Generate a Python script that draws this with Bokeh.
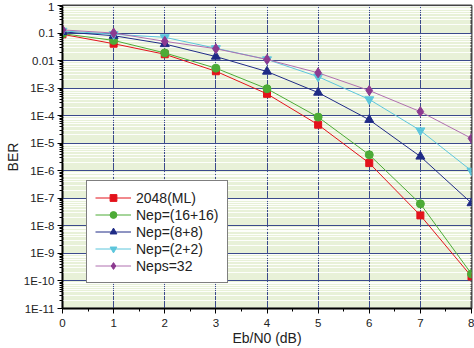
from bokeh.plotting import figure
from bokeh.models import FixedTicker, Legend, LegendItem
from bokeh.embed import file_html
from bokeh.resources import INLINE

snr = [0, 1, 2, 3, 4, 5, 6, 7, 8]
ber_ml = [0.09, 0.041, 0.017, 0.0041, 6.2e-4, 4.7e-5, 1.9e-6, 2.4e-8, 1.45e-10]
ber_16 = [0.095, 0.054, 0.019, 0.0053, 9.5e-4, 8.9e-5, 3.8e-6, 6.3e-8, 1.8e-10]
ber_8 = [0.11, 0.08, 0.04, 0.014, 0.004, 6.9e-4, 7.1e-5, 3.3e-6, 6.7e-8]
ber_2 = [0.12, 0.09, 0.07, 0.028, 0.011, 0.0026, 3.9e-4, 2.9e-5, 1.0e-6]
ber_32 = [0.13, 0.1, 0.05, 0.027, 0.011, 0.0036, 8.2e-4, 1.4e-4, 1.5e-5]

series_names = ["2048(ML)", "Nep=(16+16)", "Nep=(8+8)", "Nep=(2+2)", "Neps=32"]

y_ticks = [1, 0.1, 0.01, 1e-3, 1e-4, 1e-5, 1e-6, 1e-7, 1e-8, 1e-9, 1e-10, 1e-11]
y_labels = ["1", "0.1", "0.01", "1E-3", "1E-4", "1E-5", "1E-6", "1E-7", "1E-8", "1E-9", "1E-10", "1E-11"]
x_ticks = [0, 1, 2, 3, 4, 5, 6, 7, 8]

FONT = "Liberation Sans"

p = figure(width=474, height=348, y_axis_type="log", x_range=(0, 8), y_range=(1e-11, 1),
           output_backend="svg", toolbar_location=None,
           min_border_left=62, min_border_right=3, min_border_top=5, min_border_bottom=39)

p.background_fill_color = "#e8f1d8"
p.border_fill_color = "white"
p.outline_line_color = "#444444"
p.outline_line_width = 2

minor_y = []
for e in range(-11, 0):
    for m in range(2, 10):
        minor_y.append(m * 10.0 ** e)

p.yaxis.ticker = FixedTicker(ticks=y_ticks, minor_ticks=minor_y)
p.yaxis.major_label_overrides = {t: l for t, l in zip(y_ticks, y_labels)}
p.xaxis.ticker = FixedTicker(ticks=x_ticks, minor_ticks=[i + 0.5 for i in range(8)])

for ax in (p.xaxis[0], p.yaxis[0]):
    ax.axis_line_color = "black"
    ax.axis_line_width = 1.5
    ax.major_tick_line_color = "black"
    ax.minor_tick_line_color = "black"
    ax.major_tick_out = 5
    ax.major_tick_in = 0
    ax.minor_tick_out = 3
    ax.minor_tick_in = 0
    ax.major_label_text_font = FONT
    ax.major_label_text_font_size = "11.5px"
    ax.major_label_text_color = "#222222"
    ax.axis_label_text_font = FONT
    ax.axis_label_text_font_style = "normal"
    ax.axis_label_text_font_size = "14px"
    ax.axis_label_text_color = "#222222"

p.xaxis.major_label_standoff = 5
p.yaxis.major_label_standoff = 3
p.xaxis.axis_label = "Eb/N0 (dB)"
p.yaxis.axis_label = "BER"
p.xaxis.axis_label_standoff = 0
p.yaxis.axis_label_standoff = 0

p.xgrid.grid_line_color = "#3b4a8c"
p.xgrid.grid_line_width = 1
p.ygrid.grid_line_color = "#3b4a8c"
p.ygrid.grid_line_width = 1
p.ygrid.minor_grid_line_color = "white"
p.ygrid.minor_grid_line_alpha = 0.9
p.ygrid.minor_grid_line_width = 1

colors = ["#e3121b", "#4cab36", "#1f2b86", "#5cc6dc", "#8c3a90"]
line_colors = ["#e3121b", "#4cab36", "#1f2b86", "#5cc6dc", "#b070b0"]
markers = ["square", "circle", "triangle", "inverted_triangle", "diamond"]
sizes = [7, 8, 9, 9, 10]
data = [ber_ml, ber_16, ber_8, ber_2, ber_32]

items = []
for name, ys, c, lc, mk, sz in zip(series_names, data, colors, line_colors, markers, sizes):
    r1 = p.line(snr, ys, line_color=lc, line_width=1)
    r2 = p.scatter(snr, ys, marker=mk, size=sz, fill_color=c, line_color=c)
    items.append(LegendItem(label=name, renderers=[r1, r2]))

legend = Legend(items=items, location=(24, 25))
legend.label_text_font = FONT
legend.label_text_font_size = "14px"
legend.label_text_color = "#222222"
legend.border_line_color = "black"
legend.border_line_width = 1
legend.background_fill_color = "white"
legend.background_fill_alpha = 1
legend.glyph_width = 36
legend.glyph_height = 17
legend.label_height = 17
legend.label_standoff = 5
legend.spacing = 0
legend.padding = 8
legend.margin = 0
p.add_layout(legend, "center")

open("out.html", "w").write(file_html(p, INLINE))
